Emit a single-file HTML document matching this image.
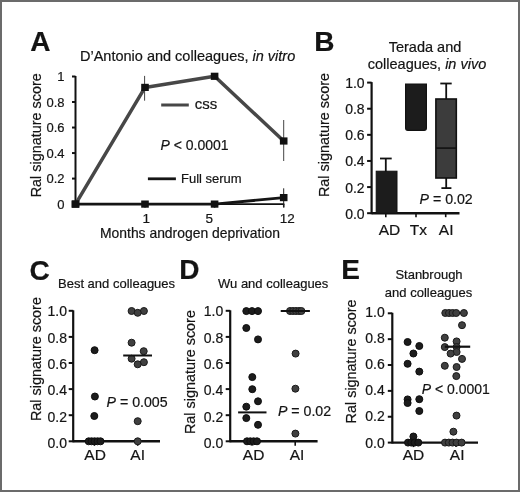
<!DOCTYPE html>
<html><head><meta charset="utf-8"><title>Ral signature score figure</title>
<style>
html,body{margin:0;padding:0;background:#fff;}
.fig{position:relative;width:520px;height:492px;box-sizing:border-box;border:2px solid #6b6b6b;background:#fff;overflow:hidden;}
svg{position:absolute;left:-2px;top:-2px;}
text{font-family:"Liberation Sans", Arial, Helvetica, sans-serif;fill:#141414;stroke:#141414;stroke-width:0.2px;}
</style></head><body>
<div class="fig">
<svg width="520" height="492" viewBox="0 0 520 492">
<text x="30.3" y="50.5" font-size="28" font-weight="bold" stroke="#141414" stroke-width="0.35">A</text>
<text x="314.3" y="51" font-size="28" font-weight="bold" stroke="#141414" stroke-width="0.35">B</text>
<text x="29.5" y="280" font-size="28" font-weight="bold" stroke="#141414" stroke-width="0.35">C</text>
<text x="179.3" y="279" font-size="28" font-weight="bold" stroke="#141414" stroke-width="0.35">D</text>
<text x="341.3" y="279.3" font-size="28" font-weight="bold" stroke="#141414" stroke-width="0.35">E</text>
<text x="80" y="60.8" font-size="14.5" >D’Antonio and colleagues, <tspan font-style="italic">in vitro</tspan></text>
<line x1="75.5" y1="76.0" x2="75.5" y2="205.1" stroke="#111" stroke-width="2"/>
<line x1="72.0" y1="204.1" x2="75.5" y2="204.1" stroke="#111" stroke-width="2"/>
<text x="64.5" y="208.55" font-size="13" text-anchor="end" >0</text>
<line x1="72.0" y1="178.58" x2="75.5" y2="178.58" stroke="#111" stroke-width="2"/>
<text x="64.5" y="183.07" font-size="13" text-anchor="end" >0.2</text>
<line x1="72.0" y1="153.06" x2="75.5" y2="153.06" stroke="#111" stroke-width="2"/>
<text x="64.5" y="157.59" font-size="13" text-anchor="end" >0.4</text>
<line x1="72.0" y1="127.54" x2="75.5" y2="127.54" stroke="#111" stroke-width="2"/>
<text x="64.5" y="132.11" font-size="13" text-anchor="end" >0.6</text>
<line x1="72.0" y1="102.02" x2="75.5" y2="102.02" stroke="#111" stroke-width="2"/>
<text x="64.5" y="106.63" font-size="13" text-anchor="end" >0.8</text>
<line x1="72.0" y1="76.5" x2="75.5" y2="76.5" stroke="#111" stroke-width="2"/>
<text x="64.5" y="81.15" font-size="13" text-anchor="end" >1</text>
<text x="0" y="0" font-size="14.4" text-anchor="middle" transform="translate(40.8,135.3) rotate(-90)">Ral signature score</text>
<line x1="75.5" y1="204.1" x2="284.3" y2="204.1" stroke="#111" stroke-width="1.9"/>
<line x1="145" y1="204.1" x2="145" y2="207.6" stroke="#111" stroke-width="1.5"/>
<line x1="214.6" y1="204.1" x2="214.6" y2="207.6" stroke="#111" stroke-width="1.5"/>
<line x1="283.7" y1="204.1" x2="283.7" y2="207.6" stroke="#111" stroke-width="1.5"/>
<text x="146.3" y="222.7" font-size="13.5" text-anchor="middle" >1</text>
<text x="209.2" y="222.7" font-size="13.5" text-anchor="middle" >5</text>
<text x="287.2" y="222.7" font-size="13.5" text-anchor="middle" >12</text>
<text x="100" y="237.8" font-size="13.9" >Months androgen deprivation</text>
<line x1="144.6" y1="75.9" x2="144.6" y2="100.7" stroke="#444" stroke-width="1"/>
<line x1="283.7" y1="120" x2="283.7" y2="161" stroke="#444" stroke-width="1"/>
<line x1="283.7" y1="188.3" x2="283.7" y2="207" stroke="#222" stroke-width="1"/>
<polyline points="75.5,204.1 145,87.4 214.6,76.3 283.7,141" fill="none" stroke="#474747" stroke-width="3.5" stroke-linejoin="round"/>
<polyline points="75.5,204.1 145,204.1 214.6,204.1 283.7,197.6" fill="none" stroke="#151515" stroke-width="2.9" stroke-linejoin="round"/>
<rect x="71.7" y="200.5" width="7.6" height="7.2" fill="#111" />
<rect x="141.2" y="83.8" width="7.6" height="7.2" fill="#111" />
<rect x="210.8" y="72.7" width="7.6" height="7.2" fill="#111" />
<rect x="279.9" y="137.4" width="7.6" height="7.2" fill="#111" />
<rect x="71.7" y="200.5" width="7.6" height="7.2" fill="#111" />
<rect x="141.2" y="200.5" width="7.6" height="7.2" fill="#111" />
<rect x="210.8" y="200.5" width="7.6" height="7.2" fill="#111" />
<rect x="279.9" y="194.0" width="7.6" height="7.2" fill="#111" />
<line x1="161.2" y1="105" x2="188.8" y2="105" stroke="#474747" stroke-width="3"/>
<text x="194.8" y="109.2" font-size="15" >css</text>
<line x1="147.9" y1="178.8" x2="175.9" y2="178.8" stroke="#151515" stroke-width="2.8"/>
<text x="181" y="182.9" font-size="13" >Full serum</text>
<text x="160.5" y="149.8" font-size="14" ><tspan font-style="italic">P</tspan> &lt; 0.0001</text>
<text x="425" y="52.1" font-size="14.5" text-anchor="middle" >Terada and</text>
<text x="427" y="69" font-size="14.5" text-anchor="middle" >colleagues, <tspan font-style="italic">in vivo</tspan></text>
<line x1="371.6" y1="82.1" x2="371.6" y2="214.2" stroke="#111" stroke-width="2.2"/>
<line x1="367.1" y1="213.2" x2="371.6" y2="213.2" stroke="#111" stroke-width="2"/>
<text x="364.6" y="218.8" font-size="14" text-anchor="end" >0.0</text>
<line x1="367.1" y1="187.08" x2="371.6" y2="187.08" stroke="#111" stroke-width="2"/>
<text x="364.6" y="192.56" font-size="14" text-anchor="end" >0.2</text>
<line x1="367.1" y1="160.96" x2="371.6" y2="160.96" stroke="#111" stroke-width="2"/>
<text x="364.6" y="166.32" font-size="14" text-anchor="end" >0.4</text>
<line x1="367.1" y1="134.84" x2="371.6" y2="134.84" stroke="#111" stroke-width="2"/>
<text x="364.6" y="140.08" font-size="14" text-anchor="end" >0.6</text>
<line x1="367.1" y1="108.72" x2="371.6" y2="108.72" stroke="#111" stroke-width="2"/>
<text x="364.6" y="113.84" font-size="14" text-anchor="end" >0.8</text>
<line x1="367.1" y1="82.6" x2="371.6" y2="82.6" stroke="#111" stroke-width="2"/>
<text x="364.6" y="87.6" font-size="14" text-anchor="end" >1.0</text>
<text x="0" y="0" font-size="14.4" text-anchor="middle" transform="translate(329.1,135.05) rotate(-90)">Ral signature score</text>
<line x1="371.6" y1="213.2" x2="459.5" y2="213.2" stroke="#111" stroke-width="2.4"/>
<line x1="385.8" y1="213.2" x2="385.8" y2="217.2" stroke="#111" stroke-width="1.6"/>
<line x1="416" y1="213.2" x2="416" y2="217.2" stroke="#111" stroke-width="1.6"/>
<line x1="445.7" y1="213.2" x2="445.7" y2="217.2" stroke="#111" stroke-width="1.6"/>
<line x1="385.8" y1="158.5" x2="385.8" y2="172" stroke="#111" stroke-width="1.8"/>
<line x1="380" y1="158.5" x2="391.7" y2="158.5" stroke="#111" stroke-width="1.8"/>
<rect x="376.2" y="171.2" width="20.8" height="42.0" fill="#1c1c1c" stroke="#111" stroke-width="1" />
<path d="M405.6,84 H426.4 V128 Q426.4,130.3 424.1,130.3 H407.9 Q405.6,130.3 405.6,128 Z" fill="#1c1c1c" stroke="#111" stroke-width="1.2"/>
<line x1="446.2" y1="83.5" x2="446.2" y2="99" stroke="#111" stroke-width="1.8"/>
<line x1="440.3" y1="83.5" x2="451.7" y2="83.5" stroke="#111" stroke-width="1.8"/>
<line x1="446.2" y1="178" x2="446.2" y2="188.1" stroke="#111" stroke-width="1.8"/>
<line x1="441.4" y1="188.1" x2="451.4" y2="188.1" stroke="#111" stroke-width="1.8"/>
<rect x="435.9" y="99" width="20.4" height="79" fill="#3c3c3c" stroke="#111" stroke-width="1.6" />
<line x1="436" y1="148.1" x2="456.2" y2="148.1" stroke="#111" stroke-width="1.6"/>
<text x="389.4" y="234.6" font-size="15.5" text-anchor="middle" >AD</text>
<text x="418.3" y="234.6" font-size="15.5" text-anchor="middle" >Tx</text>
<text x="446.2" y="234.6" font-size="15.5" text-anchor="middle" >AI</text>
<text x="419.5" y="204.2" font-size="14.2" ><tspan font-style="italic">P</tspan> = 0.02</text>
<text x="58" y="287.6" font-size="13" >Best and colleagues</text>
<line x1="73.2" y1="310.3" x2="73.2" y2="442.3" stroke="#111" stroke-width="2.2"/>
<line x1="68.7" y1="441.3" x2="73.2" y2="441.3" stroke="#111" stroke-width="2"/>
<text x="67" y="447.8" font-size="14" text-anchor="end" >0.0</text>
<line x1="68.7" y1="415.2" x2="73.2" y2="415.2" stroke="#111" stroke-width="2"/>
<text x="67" y="421.52" font-size="14" text-anchor="end" >0.2</text>
<line x1="68.7" y1="389.1" x2="73.2" y2="389.1" stroke="#111" stroke-width="2"/>
<text x="67" y="395.24" font-size="14" text-anchor="end" >0.4</text>
<line x1="68.7" y1="363.0" x2="73.2" y2="363.0" stroke="#111" stroke-width="2"/>
<text x="67" y="368.96" font-size="14" text-anchor="end" >0.6</text>
<line x1="68.7" y1="336.9" x2="73.2" y2="336.9" stroke="#111" stroke-width="2"/>
<text x="67" y="342.68" font-size="14" text-anchor="end" >0.8</text>
<line x1="68.7" y1="310.8" x2="73.2" y2="310.8" stroke="#111" stroke-width="2"/>
<text x="67" y="316.4" font-size="14" text-anchor="end" >1.0</text>
<text x="0" y="0" font-size="14.4" text-anchor="middle" transform="translate(40.9,359.1) rotate(-90)">Ral signature score</text>
<line x1="73.2" y1="441.3" x2="160" y2="441.3" stroke="#111" stroke-width="2.4"/>
<line x1="94.4" y1="441.3" x2="94.4" y2="445.8" stroke="#111" stroke-width="1.6"/>
<line x1="137.7" y1="441.3" x2="137.7" y2="445.8" stroke="#111" stroke-width="1.6"/>
<circle cx="94.6" cy="350.2" r="3.5" fill="#1c1c1c" stroke="#0e0e0e" stroke-width="1"/>
<circle cx="94.9" cy="396.5" r="3.5" fill="#1c1c1c" stroke="#0e0e0e" stroke-width="1"/>
<circle cx="94.3" cy="416" r="3.5" fill="#1c1c1c" stroke="#0e0e0e" stroke-width="1"/>
<circle cx="88.7" cy="441.3" r="3.5" fill="#1c1c1c" stroke="#0e0e0e" stroke-width="1"/>
<circle cx="91.6" cy="441.3" r="3.5" fill="#1c1c1c" stroke="#0e0e0e" stroke-width="1"/>
<circle cx="94.6" cy="441.3" r="3.5" fill="#1c1c1c" stroke="#0e0e0e" stroke-width="1"/>
<circle cx="97.6" cy="441.3" r="3.5" fill="#1c1c1c" stroke="#0e0e0e" stroke-width="1"/>
<circle cx="100.5" cy="441.3" r="3.5" fill="#1c1c1c" stroke="#0e0e0e" stroke-width="1"/>
<circle cx="131.6" cy="311" r="3.5" fill="#404040" stroke="#1a1a1a" stroke-width="1"/>
<circle cx="143.9" cy="311" r="3.5" fill="#404040" stroke="#1a1a1a" stroke-width="1"/>
<circle cx="137.7" cy="312.8" r="3.5" fill="#404040" stroke="#1a1a1a" stroke-width="1"/>
<circle cx="131.6" cy="342.7" r="3.5" fill="#404040" stroke="#1a1a1a" stroke-width="1"/>
<circle cx="143.7" cy="351.2" r="3.5" fill="#404040" stroke="#1a1a1a" stroke-width="1"/>
<circle cx="131.6" cy="358.7" r="3.5" fill="#404040" stroke="#1a1a1a" stroke-width="1"/>
<circle cx="143.9" cy="362.2" r="3.5" fill="#404040" stroke="#1a1a1a" stroke-width="1"/>
<circle cx="137.7" cy="364.3" r="3.5" fill="#404040" stroke="#1a1a1a" stroke-width="1"/>
<circle cx="137.7" cy="421.2" r="3.5" fill="#404040" stroke="#1a1a1a" stroke-width="1"/>
<circle cx="137.7" cy="441.3" r="3.5" fill="#404040" stroke="#1a1a1a" stroke-width="1"/>
<line x1="123.2" y1="355.5" x2="152" y2="355.5" stroke="#111" stroke-width="2"/>
<text x="95.1" y="459.9" font-size="15.5" text-anchor="middle" >AD</text>
<text x="137.7" y="459.9" font-size="15.5" text-anchor="middle" >AI</text>
<text x="106.5" y="406.8" font-size="14.2" ><tspan font-style="italic">P</tspan> = 0.005</text>
<text x="218" y="288" font-size="13" >Wu and colleagues</text>
<line x1="230.2" y1="310.3" x2="230.2" y2="442.3" stroke="#111" stroke-width="2.2"/>
<line x1="225.7" y1="441.3" x2="230.2" y2="441.3" stroke="#111" stroke-width="2"/>
<text x="223.2" y="447.8" font-size="14" text-anchor="end" >0.0</text>
<line x1="225.7" y1="415.2" x2="230.2" y2="415.2" stroke="#111" stroke-width="2"/>
<text x="223.2" y="421.52" font-size="14" text-anchor="end" >0.2</text>
<line x1="225.7" y1="389.1" x2="230.2" y2="389.1" stroke="#111" stroke-width="2"/>
<text x="223.2" y="395.24" font-size="14" text-anchor="end" >0.4</text>
<line x1="225.7" y1="363.0" x2="230.2" y2="363.0" stroke="#111" stroke-width="2"/>
<text x="223.2" y="368.96" font-size="14" text-anchor="end" >0.6</text>
<line x1="225.7" y1="336.9" x2="230.2" y2="336.9" stroke="#111" stroke-width="2"/>
<text x="223.2" y="342.68" font-size="14" text-anchor="end" >0.8</text>
<line x1="225.7" y1="310.8" x2="230.2" y2="310.8" stroke="#111" stroke-width="2"/>
<text x="223.2" y="316.4" font-size="14" text-anchor="end" >1.0</text>
<text x="0" y="0" font-size="14.4" text-anchor="middle" transform="translate(195.2,372.1) rotate(-90)">Ral signature score</text>
<line x1="230.2" y1="441.3" x2="317.6" y2="441.3" stroke="#111" stroke-width="2.4"/>
<line x1="252" y1="441.3" x2="252" y2="445.8" stroke="#111" stroke-width="1.6"/>
<line x1="295.2" y1="441.3" x2="295.2" y2="445.8" stroke="#111" stroke-width="1.6"/>
<circle cx="246.3" cy="311.1" r="3.5" fill="#1c1c1c" stroke="#0e0e0e" stroke-width="1"/>
<circle cx="252" cy="311.1" r="3.5" fill="#1c1c1c" stroke="#0e0e0e" stroke-width="1"/>
<circle cx="258" cy="311.1" r="3.5" fill="#1c1c1c" stroke="#0e0e0e" stroke-width="1"/>
<circle cx="246.3" cy="328" r="3.5" fill="#1c1c1c" stroke="#0e0e0e" stroke-width="1"/>
<circle cx="258" cy="339.4" r="3.5" fill="#1c1c1c" stroke="#0e0e0e" stroke-width="1"/>
<circle cx="252.3" cy="377.1" r="3.5" fill="#1c1c1c" stroke="#0e0e0e" stroke-width="1"/>
<circle cx="252.3" cy="389.2" r="3.5" fill="#1c1c1c" stroke="#0e0e0e" stroke-width="1"/>
<circle cx="258" cy="401.3" r="3.5" fill="#1c1c1c" stroke="#0e0e0e" stroke-width="1"/>
<circle cx="246.3" cy="406.7" r="3.5" fill="#1c1c1c" stroke="#0e0e0e" stroke-width="1"/>
<circle cx="246.3" cy="418.1" r="3.5" fill="#1c1c1c" stroke="#0e0e0e" stroke-width="1"/>
<circle cx="258" cy="424.8" r="3.5" fill="#1c1c1c" stroke="#0e0e0e" stroke-width="1"/>
<circle cx="247" cy="441.3" r="3.5" fill="#1c1c1c" stroke="#0e0e0e" stroke-width="1"/>
<circle cx="250.3" cy="441.3" r="3.5" fill="#1c1c1c" stroke="#0e0e0e" stroke-width="1"/>
<circle cx="253.6" cy="441.3" r="3.5" fill="#1c1c1c" stroke="#0e0e0e" stroke-width="1"/>
<circle cx="257" cy="441.3" r="3.5" fill="#1c1c1c" stroke="#0e0e0e" stroke-width="1"/>
<circle cx="290" cy="311" r="3.5" fill="#404040" stroke="#1a1a1a" stroke-width="1"/>
<circle cx="293" cy="311" r="3.5" fill="#404040" stroke="#1a1a1a" stroke-width="1"/>
<circle cx="296" cy="311" r="3.5" fill="#404040" stroke="#1a1a1a" stroke-width="1"/>
<circle cx="299" cy="311" r="3.5" fill="#404040" stroke="#1a1a1a" stroke-width="1"/>
<circle cx="301.4" cy="311" r="3.5" fill="#404040" stroke="#1a1a1a" stroke-width="1"/>
<circle cx="295.6" cy="353.6" r="3.5" fill="#404040" stroke="#1a1a1a" stroke-width="1"/>
<circle cx="295.4" cy="388.7" r="3.5" fill="#404040" stroke="#1a1a1a" stroke-width="1"/>
<circle cx="295.4" cy="433.6" r="3.5" fill="#404040" stroke="#1a1a1a" stroke-width="1"/>
<line x1="280.7" y1="311" x2="309.9" y2="311" stroke="#111" stroke-width="2"/>
<line x1="238.1" y1="412.4" x2="266.5" y2="412.4" stroke="#111" stroke-width="2"/>
<text x="253.6" y="460.3" font-size="15.5" text-anchor="middle" >AD</text>
<text x="297" y="460.3" font-size="15.5" text-anchor="middle" >AI</text>
<text x="277.9" y="416.2" font-size="14.2" ><tspan font-style="italic">P</tspan> = 0.02</text>
<text x="429" y="279.4" font-size="13" text-anchor="middle" >Stanbrough</text>
<text x="428.6" y="297.1" font-size="13" text-anchor="middle" >and colleagues</text>
<line x1="392.3" y1="312.8" x2="392.3" y2="443.6" stroke="#111" stroke-width="2.2"/>
<line x1="387.8" y1="442.6" x2="392.3" y2="442.6" stroke="#111" stroke-width="2"/>
<text x="384.8" y="447.5" font-size="14" text-anchor="end" >0.0</text>
<line x1="387.8" y1="416.74" x2="392.3" y2="416.74" stroke="#111" stroke-width="2"/>
<text x="384.8" y="421.4" font-size="14" text-anchor="end" >0.2</text>
<line x1="387.8" y1="390.88" x2="392.3" y2="390.88" stroke="#111" stroke-width="2"/>
<text x="384.8" y="395.3" font-size="14" text-anchor="end" >0.4</text>
<line x1="387.8" y1="365.02" x2="392.3" y2="365.02" stroke="#111" stroke-width="2"/>
<text x="384.8" y="369.2" font-size="14" text-anchor="end" >0.6</text>
<line x1="387.8" y1="339.16" x2="392.3" y2="339.16" stroke="#111" stroke-width="2"/>
<text x="384.8" y="343.1" font-size="14" text-anchor="end" >0.8</text>
<line x1="387.8" y1="313.3" x2="392.3" y2="313.3" stroke="#111" stroke-width="2"/>
<text x="384.8" y="317.0" font-size="14" text-anchor="end" >1.0</text>
<text x="0" y="0" font-size="14.4" text-anchor="middle" transform="translate(356.2,361.4) rotate(-90)">Ral signature score</text>
<line x1="392.3" y1="442.6" x2="478" y2="442.6" stroke="#111" stroke-width="2.4"/>
<line x1="413.4" y1="442.6" x2="413.4" y2="447.1" stroke="#111" stroke-width="1.6"/>
<line x1="456" y1="442.6" x2="456" y2="447.1" stroke="#111" stroke-width="1.6"/>
<circle cx="407.6" cy="342" r="3.5" fill="#1c1c1c" stroke="#0e0e0e" stroke-width="1"/>
<circle cx="419.3" cy="346" r="3.5" fill="#1c1c1c" stroke="#0e0e0e" stroke-width="1"/>
<circle cx="413.4" cy="353.5" r="3.5" fill="#1c1c1c" stroke="#0e0e0e" stroke-width="1"/>
<circle cx="407.6" cy="363.8" r="3.5" fill="#1c1c1c" stroke="#0e0e0e" stroke-width="1"/>
<circle cx="419.3" cy="371.6" r="3.5" fill="#1c1c1c" stroke="#0e0e0e" stroke-width="1"/>
<circle cx="407.6" cy="399.4" r="3.5" fill="#1c1c1c" stroke="#0e0e0e" stroke-width="1"/>
<circle cx="407.6" cy="403" r="3.5" fill="#1c1c1c" stroke="#0e0e0e" stroke-width="1"/>
<circle cx="419.3" cy="399.2" r="3.5" fill="#1c1c1c" stroke="#0e0e0e" stroke-width="1"/>
<circle cx="419.3" cy="411" r="3.5" fill="#1c1c1c" stroke="#0e0e0e" stroke-width="1"/>
<circle cx="413.4" cy="436.5" r="3.5" fill="#1c1c1c" stroke="#0e0e0e" stroke-width="1"/>
<circle cx="408" cy="442.6" r="3.5" fill="#1c1c1c" stroke="#0e0e0e" stroke-width="1"/>
<circle cx="411.3" cy="442.6" r="3.5" fill="#1c1c1c" stroke="#0e0e0e" stroke-width="1"/>
<circle cx="414.6" cy="442.6" r="3.5" fill="#1c1c1c" stroke="#0e0e0e" stroke-width="1"/>
<circle cx="418.3" cy="442.6" r="3.5" fill="#1c1c1c" stroke="#0e0e0e" stroke-width="1"/>
<circle cx="445.3" cy="313" r="3.5" fill="#404040" stroke="#1a1a1a" stroke-width="1"/>
<circle cx="449" cy="313" r="3.5" fill="#404040" stroke="#1a1a1a" stroke-width="1"/>
<circle cx="452.6" cy="313" r="3.5" fill="#404040" stroke="#1a1a1a" stroke-width="1"/>
<circle cx="456.2" cy="313" r="3.5" fill="#404040" stroke="#1a1a1a" stroke-width="1"/>
<circle cx="463.9" cy="313" r="3.5" fill="#404040" stroke="#1a1a1a" stroke-width="1"/>
<circle cx="462" cy="325.2" r="3.5" fill="#404040" stroke="#1a1a1a" stroke-width="1"/>
<circle cx="444.8" cy="337.7" r="3.5" fill="#404040" stroke="#1a1a1a" stroke-width="1"/>
<circle cx="456.6" cy="341.4" r="3.5" fill="#404040" stroke="#1a1a1a" stroke-width="1"/>
<circle cx="444.8" cy="347.1" r="3.5" fill="#404040" stroke="#1a1a1a" stroke-width="1"/>
<circle cx="456.6" cy="347" r="3.5" fill="#404040" stroke="#1a1a1a" stroke-width="1"/>
<circle cx="456.6" cy="352" r="3.5" fill="#404040" stroke="#1a1a1a" stroke-width="1"/>
<circle cx="450.6" cy="353.6" r="3.5" fill="#404040" stroke="#1a1a1a" stroke-width="1"/>
<circle cx="462" cy="358.9" r="3.5" fill="#404040" stroke="#1a1a1a" stroke-width="1"/>
<circle cx="444.8" cy="365.8" r="3.5" fill="#404040" stroke="#1a1a1a" stroke-width="1"/>
<circle cx="456.6" cy="367" r="3.5" fill="#404040" stroke="#1a1a1a" stroke-width="1"/>
<circle cx="456.3" cy="376.1" r="3.5" fill="#404040" stroke="#1a1a1a" stroke-width="1"/>
<circle cx="456.5" cy="415.6" r="3.5" fill="#404040" stroke="#1a1a1a" stroke-width="1"/>
<circle cx="453.4" cy="431.7" r="3.5" fill="#404040" stroke="#1a1a1a" stroke-width="1"/>
<circle cx="445" cy="442.6" r="3.5" fill="#404040" stroke="#1a1a1a" stroke-width="1"/>
<circle cx="448.8" cy="442.6" r="3.5" fill="#404040" stroke="#1a1a1a" stroke-width="1"/>
<circle cx="452.5" cy="442.6" r="3.5" fill="#404040" stroke="#1a1a1a" stroke-width="1"/>
<circle cx="456.5" cy="442.6" r="3.5" fill="#404040" stroke="#1a1a1a" stroke-width="1"/>
<circle cx="461.6" cy="442.6" r="3.5" fill="#404040" stroke="#1a1a1a" stroke-width="1"/>
<line x1="444.8" y1="346.7" x2="470.2" y2="346.7" stroke="#111" stroke-width="2.2"/>
<text x="413.5" y="460.3" font-size="15.5" text-anchor="middle" >AD</text>
<text x="457.2" y="460.1" font-size="15.5" text-anchor="middle" >AI</text>
<text x="489.8" y="393.7" font-size="14" text-anchor="end" ><tspan font-style="italic">P</tspan> &lt; 0.0001</text>
</svg>
</div>
</body></html>
